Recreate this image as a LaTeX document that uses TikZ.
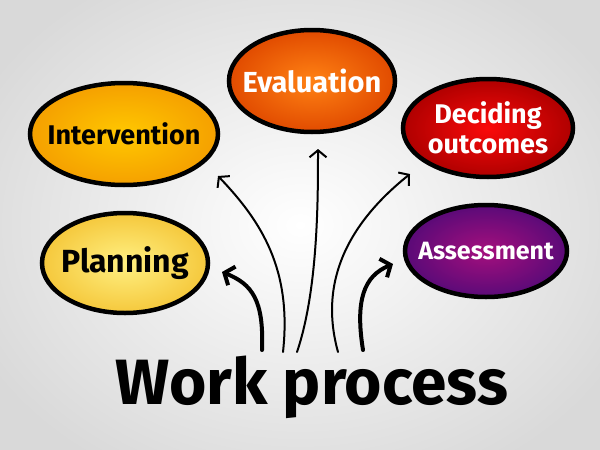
\documentclass[tikz,border=0pt]{standalone}
\usepackage{fontspec}
\setmainfont{Fira Sans}
\usetikzlibrary{shapes.geometric,arrows.meta}
\definecolor{bgout}{HTML}{D9D9D9}
\tikzset{
  bubble/.style={ellipse, draw=black, line width=4.5pt, inner sep=0pt},
  word/.style={align=center, inner sep=0pt, font=\bfseries},
  flow/.style={line width=2pt, line cap=round, -{Straight Barb[length=7pt,width=17pt,line width=2pt]}},
  bigflow/.style={line width=4pt, line cap=round, -{Straight Barb[length=8pt,width=20pt,line width=4pt]}},
}
\begin{document}
\begin{tikzpicture}[x=1pt,y=-1pt]
\useasboundingbox (0,0) rectangle (600,450);
\shade[inner color=white, outer color=bgout] (-60,-60) rectangle (660,510);

\node[bubble, minimum width=188pt, minimum height=102pt, inner color={rgb,255:red,255;green,200;blue,0}, outer color={rgb,255:red,245;green,160;blue,0}] (interv) at (124,134) {};
\node[word, font=\fontsize{27}{29}\selectfont\bfseries] (intervt) at (interv) {Intervention};
\node[bubble, minimum width=166pt, minimum height=102pt, inner color={rgb,255:red,255;green,130;blue,20}, outer color={rgb,255:red,225;green,75;blue,0}] (eval) at (312,81) {};
\node[word, text=white, font=\fontsize{29}{31}\selectfont\bfseries] (evalt) at (eval) {Evaluation};
\node[bubble, minimum width=170pt, minimum height=98pt, inner color={rgb,255:red,250;green,10;blue,10}, outer color={rgb,255:red,175;green,0;blue,0}] (decide) at (488,128) {};
\node[word, text=white, font=\fontsize{27}{30}\selectfont\bfseries] (decidet) at (decide) {Deciding\\outcomes};
\node[bubble, minimum width=166pt, minimum height=100pt, inner color={rgb,255:red,255;green,240;blue,130}, outer color={rgb,255:red,245;green,200;blue,60}] (plan) at (125,263) {};
\node[word, font=\fontsize{32}{34}\selectfont\bfseries] (plant) at (plan) {Planning};
\node[bubble, minimum width=162pt, minimum height=92pt, inner color={rgb,255:red,165;green,15;blue,125}, outer color={rgb,255:red,90;green,10;blue,120}] (assess) at (486,251) {};
\node[word, text=white, font=\fontsize{25}{27}\selectfont\bfseries] (assesst) at (assess) {Assessment};

\node[font=\fontsize{64}{66}\selectfont\bfseries] (work) at (312,387) {Work process};

\coordinate (s1) at (262,350);
\coordinate (s2) at (283,352);
\coordinate (s3) at (297,352);
\coordinate (s4) at (338,352);
\coordinate (s5) at (363,350);
\coordinate (t1) at (222,272);
\coordinate (t2) at (218,176);
\coordinate (t3) at (318,149);
\coordinate (t4) at (410,174);
\coordinate (t5) at (393,264);

\draw[bigflow] (s1) .. controls (264,300) and (252,284) .. (t1);
\draw[flow] (s2) .. controls (292,270) and (262,222) .. (t2);
\draw[flow] (s3) .. controls (318,290) and (318,200) .. (t3);
\draw[flow] (s4) .. controls (318,280) and (350,222) .. (t4);
\draw[bigflow] (s5) .. controls (355,300) and (364,276) .. (t5);
\end{tikzpicture}
\end{document}
